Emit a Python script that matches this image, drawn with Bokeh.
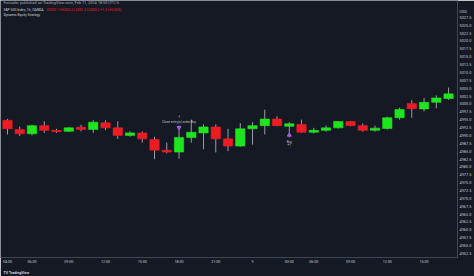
from bokeh.plotting import figure
from bokeh.models import (Range1d, LinearAxis, FixedTicker, PrintfTickFormatter,
                          Label, Title, ColumnDataSource)
from bokeh.embed import file_html
from bokeh.resources import INLINE
from bokeh.core.properties import value

# Hourly bars, oldest first
bar_open = [4994.8, 4991.9, 4990.5, 4993.1, 4991.6, 4991.3, 4992.6, 4991.9, 4994.0, 4992.4,
            4990.0, 4990.8, 4988.7, 4985.3, 4984.7, 4989.3, 4990.8, 4992.7, 4988.9, 4986.6,
            4992.1, 4993.1, 4995.2, 4992.9, 4993.5, 4991.0, 4991.6, 4992.4, 4994.4, 4993.1,
            4991.6, 4992.2, 4995.6, 5000.1, 4998.4, 5000.5, 5001.7]
bar_high = [4995.3, 4992.8, 4993.4, 4994.5, 4992.1, 4992.6, 4993.4, 4994.8, 4994.8, 4994.5,
            4991.3, 4991.3, 4989.6, 4987.7, 4991.9, 4995.0, 4993.5, 4993.5, 4992.1, 4993.9,
            4994.2, 4998.2, 4996.1, 4994.2, 4995.0, 4992.4, 4993.1, 4994.6, 4994.6, 4993.8,
            4993.1, 4995.9, 4998.8, 5001.3, 5001.9, 5002.7, 5005.2]
bar_low = [4990.3, 4989.8, 4990.0, 4990.8, 4990.8, 4991.1, 4991.3, 4990.8, 4991.7, 4988.9,
           4989.6, 4987.7, 4982.4, 4984.3, 4982.6, 4987.7, 4985.6, 4984.6, 4985.0, 4986.4,
           4987.1, 4990.3, 4992.9, 4990.8, 4990.8, 4990.6, 4991.2, 4992.2, 4992.9, 4991.2,
           4991.2, 4991.9, 4995.0, 4995.6, 4997.6, 4998.6, 5001.3]
bar_close = [4992.1, 4990.5, 4993.1, 4991.6, 4991.2, 4992.4, 4991.9, 4994.2, 4992.4, 4990.0,
             4990.8, 4988.9, 4985.3, 4984.7, 4989.3, 4991.0, 4992.7, 4988.9, 4986.6, 4992.1,
             4993.1, 4995.2, 4993.1, 4993.7, 4991.0, 4991.6, 4992.4, 4994.4, 4993.1, 4991.6,
             4992.3, 4995.6, 4998.2, 4998.5, 5000.5, 5001.9, 5003.2]

# Time scale labels (bar index -> label)
time_tick_bars = [0, 2, 5, 8, 11, 14, 17, 20, 23, 25, 28, 31, 34]
time_tick_labels = ["04:00", "06:00", "09:00", "12:00", "15:00", "18:00", "21:00", "9",
                    "03:00", "06:00", "09:00", "12:00", "15:00"]

# Price scale labels
price_ticks = [4952.5 + 2.5 * k for k in range(31)]
currency = "USD"

# Strategy orders
signal_bars = [14, 23]
signal_kind = ["exit", "entry"]
signal_names = ["Close entry(s) order Buy", "Buy"]
signal_qty = ["-1", "+1"]

# ---------------------------------------------------------------------------
W, H = 474, 276
BOTTOM, RIGHT = 17, 17
FRAME_H = H - BOTTOM

BG = "#151924"
UP = "#1fe51f"
DOWN = "#ec1c24"
WICK = "#9a9ca5"
TEXT = "#c3c6ce"
ORDER = "#a35ee0"
FONT = "Roboto"

x_lo, x_hi = -0.571, 36.73
y_lo, y_hi = 4951.21, 5032.86
units_per_px = (y_hi - y_lo) / FRAME_H


def price_at(canvas_y):
    return y_hi - canvas_y * units_per_px


p = figure(width=W, height=H, output_backend="svg", toolbar_location=None,
           x_range=Range1d(x_lo, x_hi), y_range=Range1d(y_lo, y_hi),
           x_axis_location=None, y_axis_location=None,
           min_border_left=0, min_border_right=RIGHT,
           min_border_top=0, min_border_bottom=BOTTOM,
           background_fill_color=BG, border_fill_color=BG,
           outline_line_color=None)
p.grid.visible = False

idx = list(range(len(bar_open)))
colors = [UP if c >= o else DOWN for o, c in zip(bar_open, bar_close)]
src = ColumnDataSource(dict(
    x=idx, o=bar_open, h=bar_high, l=bar_low, c=bar_close,
    top=[max(o, c) for o, c in zip(bar_open, bar_close)],
    bottom=[min(o, c) for o, c in zip(bar_open, bar_close)],
    color=colors))

p.segment(x0="x", y0="l", x1="x", y1="h", source=src, line_color=WICK, line_width=1)
p.vbar(x="x", width=0.76, top="top", bottom="bottom", source=src,
       fill_color="color", line_color="color", line_width=0.6)

# Order markers
txt = dict(text_align="center", text_baseline="middle", text_font=value(FONT),
           text_font_size="3.2px", text_color=TEXT)
for b, kind, name, qty in zip(signal_bars, signal_kind, signal_names, signal_qty):
    if kind == "exit":
        y0 = bar_high[b]
        p.scatter([b], [y0 + 1.8 * units_per_px], marker="inverted_triangle", size=4,
                  fill_color=ORDER, line_color=ORDER)
        p.segment([b], [y0 + 2.5 * units_per_px], [b], [y0 + 4.0 * units_per_px],
                  line_color=ORDER, line_width=1)
        p.text([b], [y0], text=[name], y_offset=-8, **txt)
        p.text([b], [y0], text=[qty], y_offset=-13, **txt)
    else:
        y0 = bar_low[b]
        p.scatter([b], [y0 - 2.2 * units_per_px], marker="triangle", size=4,
                  fill_color=ORDER, line_color=ORDER)
        p.segment([b], [y0 - 3.0 * units_per_px], [b], [y0 - 4.6 * units_per_px],
                  line_color=ORDER, line_width=1)
        p.text([b], [y0], text=[name], y_offset=8.5, **txt)
        p.text([b], [y0], text=[qty], y_offset=12, **txt)

# Price scale, with the currency shown at its top
usd_level = price_at(11.5)
yaxis = LinearAxis(ticker=FixedTicker(ticks=price_ticks + [usd_level]),
                   formatter=PrintfTickFormatter(format="%.1f"),
                   major_label_overrides={usd_level: currency},
                   axis_line_color="#434651", major_tick_line_color=None,
                   minor_tick_line_color=None, major_tick_out=0, major_tick_in=0,
                   major_label_standoff=2,
                   major_label_text_color=TEXT, major_label_text_font=FONT,
                   major_label_text_font_size="3.9px")
p.add_layout(yaxis, "right")

xaxis = LinearAxis(ticker=FixedTicker(ticks=time_tick_bars),
                   major_label_overrides=dict(zip(time_tick_bars, time_tick_labels)),
                   axis_line_color="#434651", major_tick_line_color=None,
                   minor_tick_line_color=None, major_tick_out=0, major_tick_in=0,
                   major_label_standoff=2,
                   major_label_text_color=TEXT, major_label_text_font=FONT,
                   major_label_text_font_size="3.7px")
p.add_layout(xaxis, "below")

p.add_layout(Title(text="TV TradingView", text_font=FONT, text_font_size="3.6px",
                   text_color="#d1d4dc", text_font_style="bold", align="left",
                   offset=3, standoff=4), "below")


# Header and legend (frame screen coordinates, y measured up from frame bottom)
def sy(canvas_y):
    return FRAME_H - canvas_y


last = len(bar_close) - 1
chg = bar_close[last] - bar_close[last - 1]
pct = chg / bar_close[last - 1] * 100
p.add_layout(Label(x=3, y=sy(3.5), x_units="screen", y_units="screen",
                   text="Forcoder published on TradingView.com, Feb 11, 2024 18:50 UTC-5",
                   text_font=FONT, text_font_size="3.9px", text_color="#a6a9b1",
                   text_baseline="middle"))
p.add_layout(Label(x=3, y=sy(11.5), x_units="screen", y_units="screen",
                   text="S&P 500 Index, 1h, OANDA", text_font=FONT, text_font_size="3.4px",
                   text_color="#d1d4dc", text_baseline="middle"))
p.add_layout(Label(x=46, y=sy(11.5), x_units="screen", y_units="screen",
                   text=(f"O{bar_open[last]:.1f} H{bar_high[last]:.1f} L{bar_low[last]:.1f} "
                         f"C{bar_close[last]:.1f} {chg:+.1f} ({pct:+.2f}%)"),
                   text_font=FONT, text_font_size="3.4px", text_color=DOWN,
                   text_baseline="middle"))
p.add_layout(Label(x=3, y=sy(16), x_units="screen", y_units="screen",
                   text="Dynamic Equity Strategy", text_font=FONT, text_font_size="3.4px",
                   text_color="#d1d4dc", text_baseline="middle"))

open("out.html", "w").write(file_html(p, INLINE))
